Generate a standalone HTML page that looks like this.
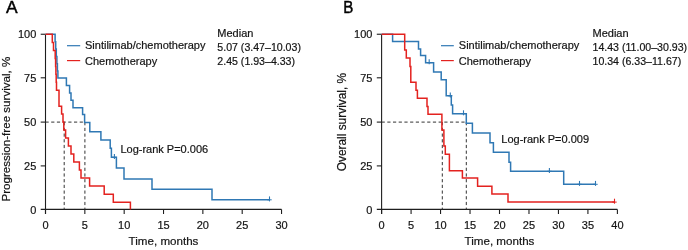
<!DOCTYPE html>
<html><head><meta charset="utf-8"><style>
html,body{margin:0;padding:0;background:#fff;width:688px;height:250px;overflow:hidden}
svg{display:block;will-change:transform}
text{font-family:"Liberation Sans",sans-serif;fill:#141414;stroke:#141414;stroke-width:0.2px}
.t{font-size:11px}
.lg{font-size:11px}
.md{font-size:10.6px}
.ax{font-size:11.6px}
.axb{font-size:11.9px}
.pl{font-size:17.4px;fill:#000;stroke:#000;stroke-width:0.45px}
</style></head><body>
<svg width="688" height="250" viewBox="0 0 688 250">
<text x="6.1" y="13.3" class="pl">A</text>
<text transform="translate(343.2,13.2) scale(0.87,1)" class="pl">B</text>
<line x1="45.5" y1="34.24" x2="45.5" y2="214.0" stroke="#1e1e1e" stroke-width="1.1"/>
<line x1="40.7" y1="209.4" x2="281.54" y2="209.4" stroke="#1e1e1e" stroke-width="1.1"/>
<line x1="40.7" y1="34.24" x2="45.5" y2="34.24" stroke="#1e1e1e" stroke-width="1.1"/>
<line x1="40.7" y1="77.80" x2="45.5" y2="77.80" stroke="#1e1e1e" stroke-width="1.1"/>
<line x1="40.7" y1="122.10" x2="45.5" y2="122.10" stroke="#1e1e1e" stroke-width="1.1"/>
<line x1="40.7" y1="165.90" x2="45.5" y2="165.90" stroke="#1e1e1e" stroke-width="1.1"/>
<text x="36.30" y="38.24" text-anchor="end" class="t">100</text>
<text x="36.30" y="81.80" text-anchor="end" class="t">75</text>
<text x="36.30" y="126.10" text-anchor="end" class="t">50</text>
<text x="36.30" y="169.90" text-anchor="end" class="t">25</text>
<text x="36.30" y="214.40" text-anchor="end" class="t">0</text>
<line x1="45.50" y1="209.4" x2="45.50" y2="214.0" stroke="#1e1e1e" stroke-width="1.1"/>
<text x="45.50" y="229.2" text-anchor="middle" class="t">0</text>
<line x1="84.84" y1="209.4" x2="84.84" y2="214.0" stroke="#1e1e1e" stroke-width="1.1"/>
<text x="84.84" y="229.2" text-anchor="middle" class="t">5</text>
<line x1="124.18" y1="209.4" x2="124.18" y2="214.0" stroke="#1e1e1e" stroke-width="1.1"/>
<text x="124.18" y="229.2" text-anchor="middle" class="t">10</text>
<line x1="163.52" y1="209.4" x2="163.52" y2="214.0" stroke="#1e1e1e" stroke-width="1.1"/>
<text x="163.52" y="229.2" text-anchor="middle" class="t">15</text>
<line x1="202.86" y1="209.4" x2="202.86" y2="214.0" stroke="#1e1e1e" stroke-width="1.1"/>
<text x="202.86" y="229.2" text-anchor="middle" class="t">20</text>
<line x1="242.20" y1="209.4" x2="242.20" y2="214.0" stroke="#1e1e1e" stroke-width="1.1"/>
<text x="242.20" y="229.2" text-anchor="middle" class="t">25</text>
<line x1="281.54" y1="209.4" x2="281.54" y2="214.0" stroke="#1e1e1e" stroke-width="1.1"/>
<text x="281.54" y="229.2" text-anchor="middle" class="t">30</text>
<text x="163.52" y="245.2" text-anchor="middle" class="ax">Time, months</text>
<text transform="translate(9.9,201.6) rotate(-90)" x="0" y="0" class="ax">Progression-free survival, %</text>
<line x1="381.6" y1="34.24" x2="381.6" y2="214.0" stroke="#1e1e1e" stroke-width="1.1"/>
<line x1="376.8" y1="209.4" x2="617.40" y2="209.4" stroke="#1e1e1e" stroke-width="1.1"/>
<line x1="376.8" y1="34.24" x2="381.6" y2="34.24" stroke="#1e1e1e" stroke-width="1.1"/>
<line x1="376.8" y1="77.80" x2="381.6" y2="77.80" stroke="#1e1e1e" stroke-width="1.1"/>
<line x1="376.8" y1="122.10" x2="381.6" y2="122.10" stroke="#1e1e1e" stroke-width="1.1"/>
<line x1="376.8" y1="165.90" x2="381.6" y2="165.90" stroke="#1e1e1e" stroke-width="1.1"/>
<text x="372.40" y="38.24" text-anchor="end" class="t">100</text>
<text x="372.40" y="81.80" text-anchor="end" class="t">75</text>
<text x="372.40" y="126.10" text-anchor="end" class="t">50</text>
<text x="372.40" y="169.90" text-anchor="end" class="t">25</text>
<text x="372.40" y="214.40" text-anchor="end" class="t">0</text>
<line x1="381.60" y1="209.4" x2="381.60" y2="214.0" stroke="#1e1e1e" stroke-width="1.1"/>
<text x="381.60" y="229.2" text-anchor="middle" class="t">0</text>
<line x1="411.08" y1="209.4" x2="411.08" y2="214.0" stroke="#1e1e1e" stroke-width="1.1"/>
<text x="411.08" y="229.2" text-anchor="middle" class="t">5</text>
<line x1="440.55" y1="209.4" x2="440.55" y2="214.0" stroke="#1e1e1e" stroke-width="1.1"/>
<text x="440.55" y="229.2" text-anchor="middle" class="t">10</text>
<line x1="470.03" y1="209.4" x2="470.03" y2="214.0" stroke="#1e1e1e" stroke-width="1.1"/>
<text x="470.03" y="229.2" text-anchor="middle" class="t">15</text>
<line x1="499.50" y1="209.4" x2="499.50" y2="214.0" stroke="#1e1e1e" stroke-width="1.1"/>
<text x="499.50" y="229.2" text-anchor="middle" class="t">20</text>
<line x1="528.98" y1="209.4" x2="528.98" y2="214.0" stroke="#1e1e1e" stroke-width="1.1"/>
<text x="528.98" y="229.2" text-anchor="middle" class="t">25</text>
<line x1="558.45" y1="209.4" x2="558.45" y2="214.0" stroke="#1e1e1e" stroke-width="1.1"/>
<text x="558.45" y="229.2" text-anchor="middle" class="t">30</text>
<line x1="587.92" y1="209.4" x2="587.92" y2="214.0" stroke="#1e1e1e" stroke-width="1.1"/>
<text x="587.92" y="229.2" text-anchor="middle" class="t">35</text>
<line x1="617.40" y1="209.4" x2="617.40" y2="214.0" stroke="#1e1e1e" stroke-width="1.1"/>
<text x="617.40" y="229.2" text-anchor="middle" class="t">40</text>
<text x="499.50" y="245.2" text-anchor="middle" class="ax">Time, months</text>
<text transform="translate(346.4,171.3) rotate(-90)" x="0" y="0" class="axb">Overall survival, %</text>
<line x1="45.5" y1="122.10" x2="84.9" y2="122.10" stroke="#333" stroke-width="1" stroke-dasharray="3.2 2.5"/>
<line x1="64.2" y1="122.10" x2="64.2" y2="209.4" stroke="#333" stroke-width="1" stroke-dasharray="3.2 2.5"/>
<line x1="84.9" y1="122.10" x2="84.9" y2="209.4" stroke="#333" stroke-width="1" stroke-dasharray="3.2 2.5"/>
<line x1="381.6" y1="122.10" x2="466.3" y2="122.10" stroke="#333" stroke-width="1" stroke-dasharray="3.2 2.5"/>
<line x1="442.3" y1="122.10" x2="442.3" y2="209.4" stroke="#333" stroke-width="1" stroke-dasharray="3.2 2.5"/>
<line x1="466.3" y1="122.10" x2="466.3" y2="209.4" stroke="#333" stroke-width="1" stroke-dasharray="3.2 2.5"/>
<path d="M45.5,34.3 H55.1 V41.80 H55.7 V49.10 H56.3 V56.40 H56.9 V63.70 H57.4 V71.00 H57.9 V78.10 H66.4 V85.60 H69.6 V92.90 H71 V100.20 H73 V107.70 H82.6 V114.60 H84.6 V122.40 H89.8 V131.70 H100.9 V140.10 H110.2 V148.30 H111.4 V157.30 H116.4 V167.90 H124 V178.90 H152.0 V189.20 H212.0 V199.80 H269.5" fill="none" stroke="#2f78b4" stroke-width="1.5"/>
<line x1="269.5" y1="196.40" x2="269.5" y2="201.40" stroke="#2f78b4" stroke-width="1.1"/>
<line x1="267.3" y1="199.80" x2="271.7" y2="199.80" stroke="#2f78b4" stroke-width="1.0"/>
<line x1="114.4" y1="153.90" x2="114.4" y2="158.90" stroke="#2f78b4" stroke-width="1.1"/>
<line x1="112.2" y1="157.30" x2="116.60000000000001" y2="157.30" stroke="#2f78b4" stroke-width="1.0"/>
<path d="M45.5,34.3 H52.3 V42.50 H53.5 V50.40 H55.2 V58.40 H55.6 V66.40 H55.9 V74.30 H56.2 V82.30 H56.5 V90.20 H59 V106.20 H61.6 V114.10 H63 V122.10 H63.8 V130.10 H65.6 V138.00 H68.4 V146.00 H71 V154.00 H73.8 V161.90 H79.4 V169.90 H81 V177.90 H89.6 V186.00 H104.2 V194.20 H113.3 V202.20 H130.4 V209.4" fill="none" stroke="#e3221f" stroke-width="1.5"/>
<path d="M381.6,34.3 H392.6 V41.60 H418.5 V48.90 H420.6 V55.40 H425.6 V62.70 H433.6 V71.90 H441.2 V79.80 H446.2 V95.80 H451.3 V104.90 H452.6 V113.70 H466.3 V123.30 H472.4 V133.10 H490 V142.70 H493.4 V152.30 H509 V162.30 H510.6 V171.30 H563.7 V184.30 H595.5" fill="none" stroke="#2f78b4" stroke-width="1.5"/>
<line x1="429.2" y1="59.30" x2="429.2" y2="64.30" stroke="#2f78b4" stroke-width="1.1"/>
<line x1="427.0" y1="62.70" x2="431.4" y2="62.70" stroke="#2f78b4" stroke-width="1.0"/>
<line x1="450.3" y1="92.40" x2="450.3" y2="97.40" stroke="#2f78b4" stroke-width="1.1"/>
<line x1="448.1" y1="95.80" x2="452.5" y2="95.80" stroke="#2f78b4" stroke-width="1.0"/>
<line x1="463.5" y1="110.30" x2="463.5" y2="115.30" stroke="#2f78b4" stroke-width="1.1"/>
<line x1="461.3" y1="113.70" x2="465.7" y2="113.70" stroke="#2f78b4" stroke-width="1.0"/>
<line x1="549.4" y1="167.90" x2="549.4" y2="172.90" stroke="#2f78b4" stroke-width="1.1"/>
<line x1="547.1999999999999" y1="171.30" x2="551.6" y2="171.30" stroke="#2f78b4" stroke-width="1.0"/>
<line x1="579.5" y1="180.90" x2="579.5" y2="185.90" stroke="#2f78b4" stroke-width="1.1"/>
<line x1="577.3" y1="184.30" x2="581.7" y2="184.30" stroke="#2f78b4" stroke-width="1.0"/>
<line x1="595.5" y1="180.90" x2="595.5" y2="185.90" stroke="#2f78b4" stroke-width="1.1"/>
<line x1="593.3" y1="184.30" x2="597.7" y2="184.30" stroke="#2f78b4" stroke-width="1.0"/>
<path d="M381.6,34.3 H404.7 V50.10 H406.3 V58.10 H410 V66.50 H410.8 V82.30 H416 V90.20 H417.4 V98.30 H427 V106.50 H428 V114.30 H441.9 V130.10 H443.9 V146.00 H445.3 V154.20 H449.4 V170.70 H462.4 V178.10 H477.6 V186.30 H491.9 V194.10 H508 V202.10 H614.5" fill="none" stroke="#e3221f" stroke-width="1.5"/>
<line x1="614.5" y1="198.70" x2="614.5" y2="203.70" stroke="#e3221f" stroke-width="1.1"/>
<line x1="612.3" y1="202.10" x2="616.7" y2="202.10" stroke="#e3221f" stroke-width="1.0"/>
<line x1="67.0" y1="45.7" x2="80.2" y2="45.7" stroke="#2f78b4" stroke-width="1.2"/>
<line x1="67.0" y1="60.6" x2="80.2" y2="60.6" stroke="#e3221f" stroke-width="1.2"/>
<text x="85" y="49.3" class="lg">Sintilimab/chemotherapy</text>
<text x="85" y="65.0" class="lg">Chemotherapy</text>
<text x="217.3" y="36.9" class="lg">Median</text>
<text x="217.3" y="51.4" class="md">5.07 (3.47–10.03)</text>
<text x="217.3" y="64.7" class="md">2.45 (1.93–4.33)</text>
<line x1="441.0" y1="45.7" x2="453.8" y2="45.7" stroke="#2f78b4" stroke-width="1.2"/>
<line x1="441.0" y1="60.6" x2="453.8" y2="60.6" stroke="#e3221f" stroke-width="1.2"/>
<text x="458.8" y="49.3" class="lg">Sintilimab/chemotherapy</text>
<text x="458.8" y="65.0" class="lg">Chemotherapy</text>
<text x="592.5" y="36.9" class="lg">Median</text>
<text x="592.5" y="51.4" class="md">14.43 (11.00–30.93)</text>
<text x="592.5" y="64.7" class="md">10.34 (6.33–11.67)</text>
<text x="120.4" y="153.2" class="lg">Log-rank P=0.006</text>
<text x="501.3" y="143.0" class="lg">Log-rank P=0.009</text>
</svg>
</body></html>
